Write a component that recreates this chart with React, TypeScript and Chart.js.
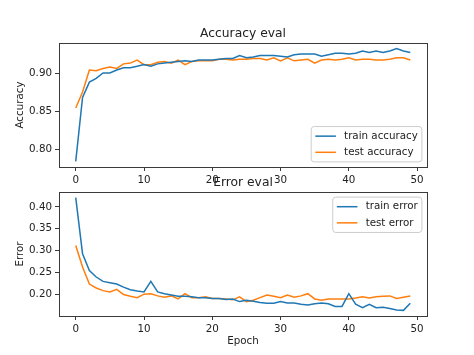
import { useEffect, useRef } from 'react';
import { Chart, registerables } from 'chart.js';

Chart.register(...registerables);

const epochs = [
  0, 1, 2, 3, 4, 5, 6, 7, 8, 9, 10, 11, 12, 13, 14, 15, 16, 17, 18, 19, 20, 21, 22, 23, 24,
  25, 26, 27, 28, 29, 30, 31, 32, 33, 34, 35, 36, 37, 38, 39, 40, 41, 42, 43, 44, 45, 46, 47, 48, 49,
];

const trainAccuracy = [
  0.784, 0.868, 0.888, 0.893, 0.9, 0.9, 0.904, 0.907, 0.907, 0.909, 0.911, 0.909, 0.912, 0.913,
  0.914, 0.915, 0.916, 0.915, 0.917, 0.917, 0.917, 0.918, 0.919, 0.919, 0.923, 0.92, 0.921, 0.923,
  0.923, 0.923, 0.922, 0.921, 0.924, 0.925, 0.925, 0.925, 0.922, 0.924, 0.926, 0.926, 0.925, 0.926,
  0.929, 0.927, 0.929, 0.927, 0.929, 0.932, 0.929, 0.927,
];

const testAccuracy = [
  0.854, 0.875, 0.904, 0.903, 0.906, 0.908, 0.906, 0.912, 0.913, 0.917, 0.911, 0.911, 0.914, 0.915,
  0.913, 0.917, 0.911, 0.915, 0.916, 0.916, 0.916, 0.918, 0.918, 0.917, 0.918, 0.918, 0.919, 0.919,
  0.917, 0.92, 0.916, 0.92, 0.916, 0.917, 0.918, 0.913, 0.917, 0.918, 0.917, 0.918, 0.92, 0.917,
  0.918, 0.918, 0.917, 0.917, 0.918, 0.92, 0.92, 0.917,
];

const trainError = [
  0.421, 0.293, 0.255, 0.24, 0.23, 0.227, 0.224, 0.217, 0.211, 0.208, 0.206, 0.23, 0.206, 0.202,
  0.199, 0.196, 0.196, 0.195, 0.193, 0.193, 0.191, 0.191, 0.189, 0.19, 0.184, 0.187, 0.185, 0.182,
  0.18, 0.18, 0.184, 0.181, 0.181, 0.178, 0.176, 0.179, 0.181, 0.179, 0.173, 0.173, 0.202, 0.178,
  0.17, 0.178, 0.17, 0.171, 0.168, 0.165, 0.164, 0.18,
];

const testError = [
  0.312, 0.263, 0.224, 0.215, 0.209, 0.206, 0.212, 0.2, 0.196, 0.193, 0.201, 0.202, 0.197, 0.194,
  0.197, 0.19, 0.202, 0.193, 0.193, 0.195, 0.191, 0.191, 0.19, 0.188, 0.195, 0.184, 0.187, 0.193,
  0.199, 0.196, 0.193, 0.199, 0.194, 0.197, 0.202, 0.19, 0.187, 0.19, 0.19, 0.19, 0.19, 0.192,
  0.195, 0.192, 0.195, 0.196, 0.197, 0.191, 0.194, 0.197,
];

const xTicks = [0, 10, 20, 30, 40, 50];
const accTicks = [0.8, 0.85, 0.9];
const errTicks = [0.2, 0.25, 0.3, 0.35, 0.4];

const BLUE = '#1f77b4';
const ORANGE = '#ff7f0e';
const FONT = 'DejaVu Sans';
const FS = 10.3;
const TEXT = '#222222';
const FRAME = '#3a3a3a';

function range(a: number[], b: number[]) {
  const all = a.concat(b);
  const mn = Math.min(...all);
  const mx = Math.max(...all);
  const m = (mx - mn) * 0.05;
  return [mn - m, mx + m];
}

type LegendItem = { label: string; color: string };

function makeConfig(p: {
  title: string;
  yLabel: string;
  xLabel: string;
  s1: number[];
  s2: number[];
  items: LegendItem[];
  yTicks: number[];
  legendCorner: 'lower' | 'upper';
  top: number;
  xHeight: number;
  xTitlePad: number;
}): any {
  const [ymin, ymax] = range(p.s1, p.s2);
  const xm = (epochs[epochs.length - 1] - epochs[0]) * 0.05;
  const deco = {
    id: 'deco' + p.title.replace(/\s/g, ''),
    afterDraw(chart: any) {
      const ctx = chart.ctx;
      const a = chart.chartArea;
      ctx.save();
      // frame
      ctx.strokeStyle = FRAME;
      ctx.lineWidth = 1;
      ctx.strokeRect(Math.round(a.left) + 0.5, Math.round(a.top) + 0.5, Math.round(a.right) - Math.round(a.left), Math.round(a.bottom) - Math.round(a.top));
      // title
      ctx.fillStyle = TEXT;
      ctx.font = `12.3px "${FONT}"`;
      ctx.textAlign = 'center';
      ctx.textBaseline = 'alphabetic';
      ctx.fillText(p.title, (a.left + a.right) / 2, a.top - 6);
      // legend
      ctx.font = `${FS}px "${FONT}"`;
      const tw = Math.max(...p.items.map((it) => ctx.measureText(it.label).width));
      const pad = 4.1, hl = 20.6, hp = 8.2, rowH = 11, sp = 5.15, inset = 5.1;
      const w = pad + hl + hp + tw + pad;
      const h = 2 * pad + p.items.length * rowH + (p.items.length - 1) * sp;
      const x = a.right - inset - w;
      const y = p.legendCorner === 'lower' ? a.bottom - inset - h : a.top + inset;
      const r = 3;
      ctx.beginPath();
      ctx.moveTo(x + r, y);
      ctx.lineTo(x + w - r, y);
      ctx.arcTo(x + w, y, x + w, y + r, r);
      ctx.lineTo(x + w, y + h - r);
      ctx.arcTo(x + w, y + h, x + w - r, y + h, r);
      ctx.lineTo(x + r, y + h);
      ctx.arcTo(x, y + h, x, y + h - r, r);
      ctx.lineTo(x, y + r);
      ctx.arcTo(x, y, x + r, y, r);
      ctx.closePath();
      ctx.fillStyle = 'rgba(255,255,255,0.8)';
      ctx.fill();
      ctx.strokeStyle = '#cccccc';
      ctx.lineWidth = 1;
      ctx.stroke();
      p.items.forEach((it, i) => {
        const cy = y + pad + rowH / 2 + i * (rowH + sp);
        ctx.beginPath();
        ctx.strokeStyle = it.color;
        ctx.lineWidth = 1.5;
        ctx.moveTo(x + pad, cy);
        ctx.lineTo(x + pad + hl, cy);
        ctx.stroke();
        ctx.fillStyle = TEXT;
        ctx.textAlign = 'left';
        ctx.textBaseline = 'middle';
        ctx.fillText(it.label, x + pad + hl + hp, cy);
      });
      ctx.restore();
    },
  };
  const mk = (d: number[]) => epochs.map((e, i) => ({ x: e, y: d[i] }));
  return {
    type: 'line',
    data: {
      datasets: [
        { label: p.items[0].label, data: mk(p.s1), borderColor: p.items[0].color, borderWidth: 1.5, pointRadius: 0, fill: false, tension: 0 },
        { label: p.items[1].label, data: mk(p.s2), borderColor: p.items[1].color, borderWidth: 1.5, pointRadius: 0, fill: false, tension: 0 },
      ],
    },
    options: {
      animation: false,
      responsive: false,
      devicePixelRatio: 1,
      events: [],
      layout: { padding: { top: p.top, right: 47, left: 0, bottom: 0 } },
      plugins: { legend: { display: false }, tooltip: { enabled: false }, title: { display: false } },
      scales: {
        x: {
          type: 'linear',
          min: epochs[0] - xm,
          max: epochs[epochs.length - 1] + xm,
          afterBuildTicks: (axis: any) => {
            axis.ticks = xTicks.map((v) => ({ value: v }));
          },
          afterFit: (axis: any) => {
            axis.height = p.xHeight;
          },
          grid: { drawOnChartArea: false, drawTicks: true, tickLength: 4, color: FRAME },
          border: { display: true, color: FRAME, width: 1 },
          ticks: { color: TEXT, padding: 3, font: { family: FONT, size: FS }, maxRotation: 0, callback: (v: any) => String(v) },
          title: p.xLabel
            ? { display: true, text: p.xLabel, color: TEXT, font: { family: FONT, size: FS }, padding: { top: 0, bottom: p.xTitlePad } }
            : { display: false },
        },
        y: {
          type: 'linear',
          min: ymin,
          max: ymax,
          afterBuildTicks: (axis: any) => {
            axis.ticks = p.yTicks.map((v) => ({ value: v }));
          },
          afterFit: (axis: any) => {
            axis.width = 59;
          },
          grid: { drawOnChartArea: false, drawTicks: true, tickLength: 4, color: FRAME },
          border: { display: true, color: FRAME, width: 1 },
          ticks: { color: TEXT, padding: 3, font: { family: FONT, size: FS }, callback: (v: any) => Number(v).toFixed(2) },
          title: { display: true, text: p.yLabel, color: TEXT, font: { family: FONT, size: FS }, padding: { top: 13.8, bottom: 0 } },
        },
      },
    },
    plugins: [deco],
  };
}

function ChartCanvas({ config, top, height }: { config: any; top: number; height: number }) {
  const ref = useRef<HTMLCanvasElement | null>(null);
  useEffect(() => {
    if (!ref.current) return;
    const c = new Chart(ref.current, config);
    return () => c.destroy();
  }, []);
  return <canvas ref={ref} width={474} height={height} style={{ position: 'absolute', left: 0, top, width: 474, height }} />;
}

export default function App() {
  const accConfig = makeConfig({
    title: 'Accuracy eval',
    yLabel: 'Accuracy',
    xLabel: '',
    s1: trainAccuracy,
    s2: testAccuracy,
    items: [
      { label: 'train accuracy', color: BLUE },
      { label: 'test accuracy', color: ORANGE },
    ],
    yTicks: accTicks,
    legendCorner: 'lower',
    top: 43,
    xHeight: 23,
    xTitlePad: 0,
  });
  const errConfig = makeConfig({
    title: 'Error eval',
    yLabel: 'Error',
    xLabel: 'Epoch',
    s1: trainError,
    s2: testError,
    items: [
      { label: 'train error', color: BLUE },
      { label: 'test error', color: ORANGE },
    ],
    yTicks: errTicks,
    legendCorner: 'upper',
    top: 27,
    xHeight: 39,
    xTitlePad: 7,
  });
  return (
    <div style={{ position: 'fixed', left: 0, top: 0, width: 474, height: 355, background: '#fff', overflow: 'hidden' }}>
      <ChartCanvas config={accConfig} top={0} height={190} />
      <ChartCanvas config={errConfig} top={165} height={190} />
    </div>
  );
}
